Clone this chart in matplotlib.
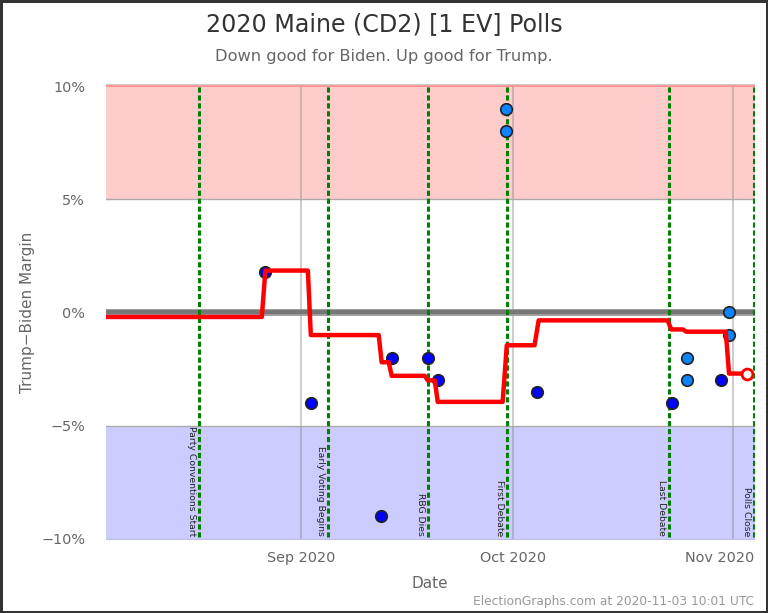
import matplotlib
matplotlib.use('Agg')
import matplotlib.pyplot as plt
from matplotlib.transforms import ScaledTranslation
import pandas as pd

# Poll average (red line)
avg_dates = ['2020-08-04 12:00', '2020-08-26 12:00', '2020-08-27 00:00', '2020-09-02 00:00',
             '2020-09-02 10:00', '2020-09-12 00:00', '2020-09-12 10:00', '2020-09-13 10:00',
             '2020-09-13 20:00', '2020-09-18 12:00', '2020-09-18 22:00', '2020-09-19 22:00',
             '2020-09-20 08:00', '2020-09-29 12:00', '2020-09-30 02:00', '2020-10-04 00:00',
             '2020-10-04 14:00', '2020-10-22 19:00', '2020-10-23 07:00', '2020-10-24 23:00',
             '2020-10-25 10:00', '2020-10-31 00:00', '2020-10-31 11:00', '2020-11-03 00:00']
avg_values = [-0.2, -0.2, 1.85, 1.85, -1.0, -1.0, -2.2, -2.2, -2.8, -2.8, -3.0, -3.0,
              -3.95, -3.95, -1.45, -1.45, -0.35, -0.35, -0.75, -0.75, -0.85, -0.85, -2.7, -2.7]

# Polls
poll_dates = ['2020-08-27 00:00', '2020-09-02 10:00', '2020-09-12 08:00', '2020-09-13 20:00',
              '2020-09-18 22:00', '2020-09-20 10:00', '2020-10-04 10:00', '2020-10-23 10:00',
              '2020-10-30 08:00']
poll_values = [1.8, -4, -9, -2, -2, -3, -3.5, -4, -3]
new_poll_dates = ['2020-09-29 23:00', '2020-09-29 23:00', '2020-10-25 12:00', '2020-10-25 12:00',
                  '2020-10-31 12:00', '2020-10-31 12:00']
new_poll_values = [9, 8, -2, -3, 0, -1]

# Events (green lines)
event_names = ['Party Conventions Start', 'Early Voting Begins', 'RBG Dies', 'First Debate',
               'Last Debate', 'Polls Close']
event_dates = ['2020-08-17 14:00', '2020-09-04 19:00', '2020-09-18 22:00', '2020-09-30 02:00',
               '2020-10-23 00:00', '2020-11-04 00:00']

month_ticks = ['2020-09-01', '2020-10-01', '2020-11-01']
month_labels = ['Sep 2020', 'Oct 2020', 'Nov 2020']
y_ticks = [-10, -5, 0, 5, 10]
y_labels = ['\u221210%', '\u22125%', '0%', '5%', '10%']

text_gray = '#666666'

fig = plt.figure(figsize=(7.68, 6.13), dpi=100)
fig.patch.set_edgecolor('#333333')
fig.patch.set_linewidth(2.4)

ax = fig.add_axes([106 / 768, 1 - 539.5 / 613, (755 - 106) / 768, (539.5 - 83.8) / 613])
ax.set_xlim(pd.Timestamp('2020-08-04 12:00'), pd.Timestamp('2020-11-04 03:00'))
ax.set_ylim(-10.03, 10.1)

# Background bands
ax.axhspan(5, 10, color='#ffcccc', lw=0, zorder=0)
ax.axhspan(-10.03, -5, color='#ccccff', lw=0, zorder=0)

# Grid
for d in month_ticks:
    ax.axvline(pd.Timestamp(d), color='#888888', alpha=0.5, lw=1.2, zorder=1)
ax.axhline(10.1, color='#cccccc', lw=1.5, zorder=1)
ax.axhline(10, color='#ff8888', lw=1.2, zorder=1)
ax.axhline(5, color='#aaaaaa', lw=1, zorder=1)
ax.axhline(-5, color='#aaaaaa', lw=1, zorder=1)
ax.axhline(-10.03, color='#bbbbdd', lw=1.2, zorder=1)
ax.axhline(0, color='#a0a0a0', lw=5, zorder=1)
ax.axhline(0, color='#777777', lw=3, zorder=1)

# Events
for name, d in zip(event_names, event_dates):
    t = pd.Timestamp(d)
    ax.plot([t, t], [-9.9, 10.05], color='green', lw=2.2, ls=(0, (1.7, 0.9)), zorder=2)
    ax.text(t - pd.Timedelta(hours=9), -9.88, name, rotation=270, ha='right', va='bottom',
            fontsize=6.7, color='#222222', zorder=3)

ax.plot(pd.to_datetime(poll_dates), poll_values, 'o', color='#0000ff', mec='#222222', mew=1.2,
        ms=8.3, zorder=4)
ax.plot(pd.to_datetime(new_poll_dates), new_poll_values, 'o', color='#0a84ff', mec='#222222',
        mew=1.2, ms=8.3, zorder=4)
ax.plot(pd.to_datetime(avg_dates), avg_values, color='#ff0000', lw=3.2, zorder=5,
        solid_joinstyle='round')
ax.plot(pd.to_datetime(avg_dates[-1:]), avg_values[-1:], 'o', color='white', mec='#ff0000',
        mew=2, ms=7.8, zorder=6)

for s in ax.spines.values():
    s.set_visible(False)
ax.set_facecolor('white')

ax.set_xticks(pd.to_datetime(month_ticks))
ax.set_xticklabels(month_labels, fontsize=10.4, color=text_gray)
ax.set_yticks(y_ticks)
ax.set_yticklabels(y_labels, fontsize=10.4, color=text_gray)
ax.tick_params(axis='both', length=0)
ax.tick_params(axis='x', pad=8)
ax.tick_params(axis='y', pad=15)

# Last month label is pushed left so it stays inside the figure
last = ax.get_xticklabels()[-1]
last.set_transform(last.get_transform() + ScaledTranslation(-13.5 / 100, 0, fig.dpi_scale_trans))

fig.text(384 / 768, 1 - 24 / 613, '2020 Maine (CD2) [1 EV] Polls', ha='center', va='center',
         fontsize=17.1, color='#333333')
fig.text(384 / 768, 1 - 57 / 613, 'Down good for Biden. Up good for Trump.', ha='center', va='center',
         fontsize=11.7, color=text_gray)
fig.text(430 / 768, 1 - 583 / 613, 'Date', ha='center', va='center', fontsize=11, color=text_gray)
fig.text(28 / 768, 1 - 312 / 613, 'Trump\u2212Biden Margin', ha='center', va='center', rotation=90,
         fontsize=11, color=text_gray)
fig.text(754 / 768, 1 - 602 / 613, 'ElectionGraphs.com at 2020-11-03 10:01 UTC', ha='right', va='center',
         fontsize=8.85, color='#999999')

plt.savefig('out.png', dpi=100, edgecolor=fig.get_edgecolor())
plt.close()
